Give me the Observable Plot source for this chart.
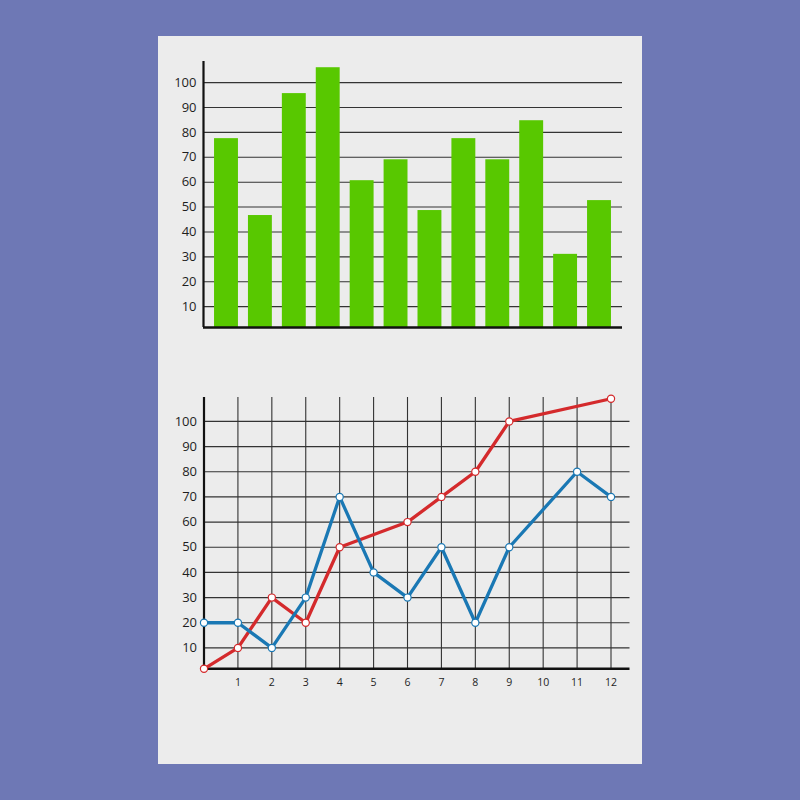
<!DOCTYPE html>
<html>
<head>
<meta charset="utf-8">
<script src="https://cdn.jsdelivr.net/npm/d3@7"></script>
<script src="https://cdn.jsdelivr.net/npm/@observablehq/plot@0.6"></script>
<style>
  html, body { margin: 0; padding: 0; background: #6e78b5; }
  #page { position: relative; width: 800px; height: 800px; background: #6e78b5; overflow: hidden; }
  #panel { position: absolute; left: 158px; top: 36px; width: 484px; height: 728px; background: #ececec; }
  #bars { position: absolute; left: 158px; top: 36px; }
  #lines { position: absolute; left: 158px; top: 370px; }
</style>
</head>
<body>
<div id="page">
  <div id="panel"></div>
  <div id="bars"></div>
  <div id="lines"></div>
</div>
<script>
// ---- Data ----
const barCategories = [1, 2, 3, 4, 5, 6, 7, 8, 9, 10, 11, 12];
const barValues = [77.5, 46.6, 95.6, 106, 60.6, 69, 48.6, 77.5, 69, 84.7, 31, 52.6];

const yTickLabels = [10, 20, 30, 40, 50, 60, 70, 80, 90, 100];
const xTickLabels = [1, 2, 3, 4, 5, 6, 7, 8, 9, 10, 11, 12];

const redX = [0, 1, 2, 3, 4, 6, 7, 8, 9, 12];
const redY = [1.7, 10, 30, 20, 50, 60, 70, 80, 100, 109];

const blueX = [0, 1, 2, 3, 4, 5, 6, 7, 8, 9, 11, 12];
const blueY = [20, 20, 10, 30, 70, 40, 30, 50, 20, 50, 80, 70];

// ---- Tables ----
const barData = barCategories.map((c, i) => ({c, v: barValues[i]}));
const red = redX.map((x, i) => ({x, y: redY[i]}));
const blue = blueX.map((x, i) => ({x, y: blueY[i]}));

const font = {fontFamily: "'Open Sans', sans-serif", fontSize: "13px", color: "#1e1e1e", background: "transparent", overflow: "visible"};

// ---- Bar chart ----
const barXDomain = [0.322, 12.678];
const barYDomain = [1.6, 108.5];
const bars = Plot.plot({
  width: 484, height: 320,
  marginLeft: 45, marginRight: 20, marginTop: 25, marginBottom: 29,
  style: font,
  x: {domain: barXDomain, axis: null},
  y: {domain: barYDomain, axis: null},
  marks: [
    Plot.ruleY(yTickLabels, {stroke: "#333", strokeWidth: 1.1}),
    Plot.rectY(barData, {x1: d => d.c - 0.5, x2: d => d.c + 0.5, y1: 0, y2: "v", fill: "#58c800", insetLeft: 5, insetRight: 5, clip: true}),
    Plot.axisY({ticks: yTickLabels, tickSize: 0, tickPadding: 7, fontSize: 13, label: null}),
    Plot.ruleX([barXDomain[0]], {stroke: "#111", strokeWidth: 2.2}),
    Plot.ruleY([barYDomain[0]], {stroke: "#111", strokeWidth: 2.5})
  ]
});
document.getElementById("bars").append(bars);

// ---- Line chart ----
const lineXDomain = [0, 12.56];
const lineYDomain = [1.7, 109.5];
const lines = Plot.plot({
  width: 484, height: 330,
  marginLeft: 45.5, marginRight: 12.5, marginTop: 27, marginBottom: 31.7,
  style: font,
  x: {domain: lineXDomain, axis: null},
  y: {domain: lineYDomain, axis: null},
  marks: [
    Plot.ruleY(yTickLabels, {stroke: "#333", strokeWidth: 1.1}),
    Plot.ruleX(xTickLabels, {stroke: "#333", strokeWidth: 1.1}),
    Plot.axisY({ticks: yTickLabels, tickSize: 0, tickPadding: 7, fontSize: 13, label: null}),
    Plot.axisX({ticks: xTickLabels, tickSize: 0, tickPadding: 10, fontSize: 10.5, label: null}),
    Plot.ruleX([lineXDomain[0]], {stroke: "#111", strokeWidth: 2.2}),
    Plot.ruleY([lineYDomain[0]], {stroke: "#111", strokeWidth: 2.5}),
    Plot.line(red, {x: "x", y: "y", stroke: "#d42a2c", strokeWidth: 3.3}),
    Plot.line(blue, {x: "x", y: "y", stroke: "#1a78b4", strokeWidth: 3.3}),
    Plot.dot(red, {x: "x", y: "y", r: 3.6, fill: "white", stroke: "#d42a2c", strokeWidth: 1.2}),
    Plot.dot(blue, {x: "x", y: "y", r: 3.6, fill: "white", stroke: "#1a78b4", strokeWidth: 1.2})
  ]
});
document.getElementById("lines").append(lines);
</script>
</body>
</html>
